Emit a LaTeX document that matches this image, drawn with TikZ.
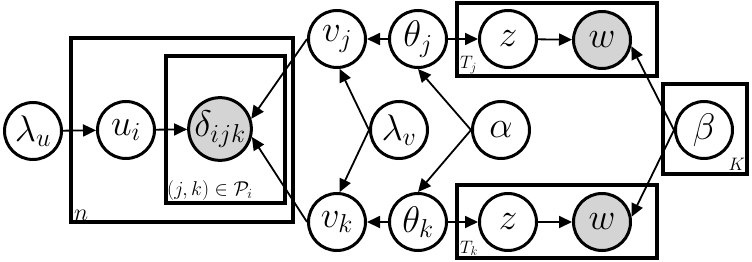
\RequirePackage{fix-cm}
\documentclass[tikz,border=0pt]{standalone}
\usetikzlibrary{arrows.meta}
\begin{document}
\begin{tikzpicture}[x=1pt,y=-1pt,
  rv/.style={circle,draw,line width=3pt,minimum size=57pt,inner sep=0pt,font=\fontsize{37}{40}\selectfont},
  obs/.style={rv,fill=black!17},
  plate/.style={draw,line width=3.3pt},
  edge/.style={line width=1.8pt,-{Triangle[length=13pt,width=12pt]}},
  lab/.style={inner sep=1pt}]
\useasboundingbox (0,0) rectangle (752,262);
\node[rv] (lu) at (33,131) {$\lambda_u$};
\node[rv] (ui) at (126,130) {$u_i$};
\node[obs] (d) at (220,129) {$\delta_{ijk}$};
\node[rv] (vj) at (337,39) {$v_j$};
\node[rv] (thj) at (418,39) {$\theta_j$};
\node[rv] (zj) at (508,39) {$z$};
\node[obs] (wj) at (602,40) {$w$};
\node[rv] (lv) at (399,130) {$\lambda_v$};
\node[rv] (al) at (501,130) {$\alpha$};
\node[rv] (vk) at (337,222) {$v_k$};
\node[rv] (thk) at (418,222) {$\theta_k$};
\node[rv] (zk) at (508,222) {$z$};
\node[obs] (wk) at (602,222) {$w$};
\node[rv] (be) at (704,130) {$\beta$};
% plates
\draw[plate] (71,38) rectangle (293,222);
\draw[plate] (166,56) rectangle (285,203);
\draw[plate] (457,3) rectangle (657,76);
\draw[plate] (457,185) rectangle (657,258);
\draw[plate] (663,84) rectangle (747,174);
\node[lab,anchor=south west,font=\fontsize{24}{26}\selectfont] (ln) at (73,222) {$n$};
\node[lab,anchor=south west,font=\fontsize{20}{22}\selectfont] (lp) at (166,202) {$(j,k)\in\mathcal{P}_i$};
\node[lab,anchor=south west,font=\fontsize{18}{20}\selectfont] (ltj) at (459,75) {$T_j$};
\node[lab,anchor=south west,font=\fontsize{18}{20}\selectfont] (ltk) at (459,257) {$T_k$};
\node[lab,anchor=south east,font=\fontsize{18}{20}\selectfont] (lk) at (746,172) {$K$};
% edges
\draw[edge] (lu) -- (ui);
\draw[edge] (ui) -- (d);
\draw[edge] (vj.west) -- (d.18);
\draw[edge] (vk.west) -- (d.-14);
\draw[edge] (thj) -- (vj);
\draw[edge] (thk) -- (vk);
\draw[edge] (thj) -- (zj);
\draw[edge] (thk) -- (zk);
\draw[edge] (zj) -- (wj);
\draw[edge] (zk) -- (wk);
\draw[edge] (lv.west) -- (vj.-85);
\draw[edge] (lv.west) -- (vk.85);
\draw[edge] (al.west) -- (thj.south);
\draw[edge] (al.west) -- (thk.north);
\draw[edge] (be.west) -- (wj.-12);
\draw[edge] (be.west) -- (wk.10);
\end{tikzpicture}
\end{document}
